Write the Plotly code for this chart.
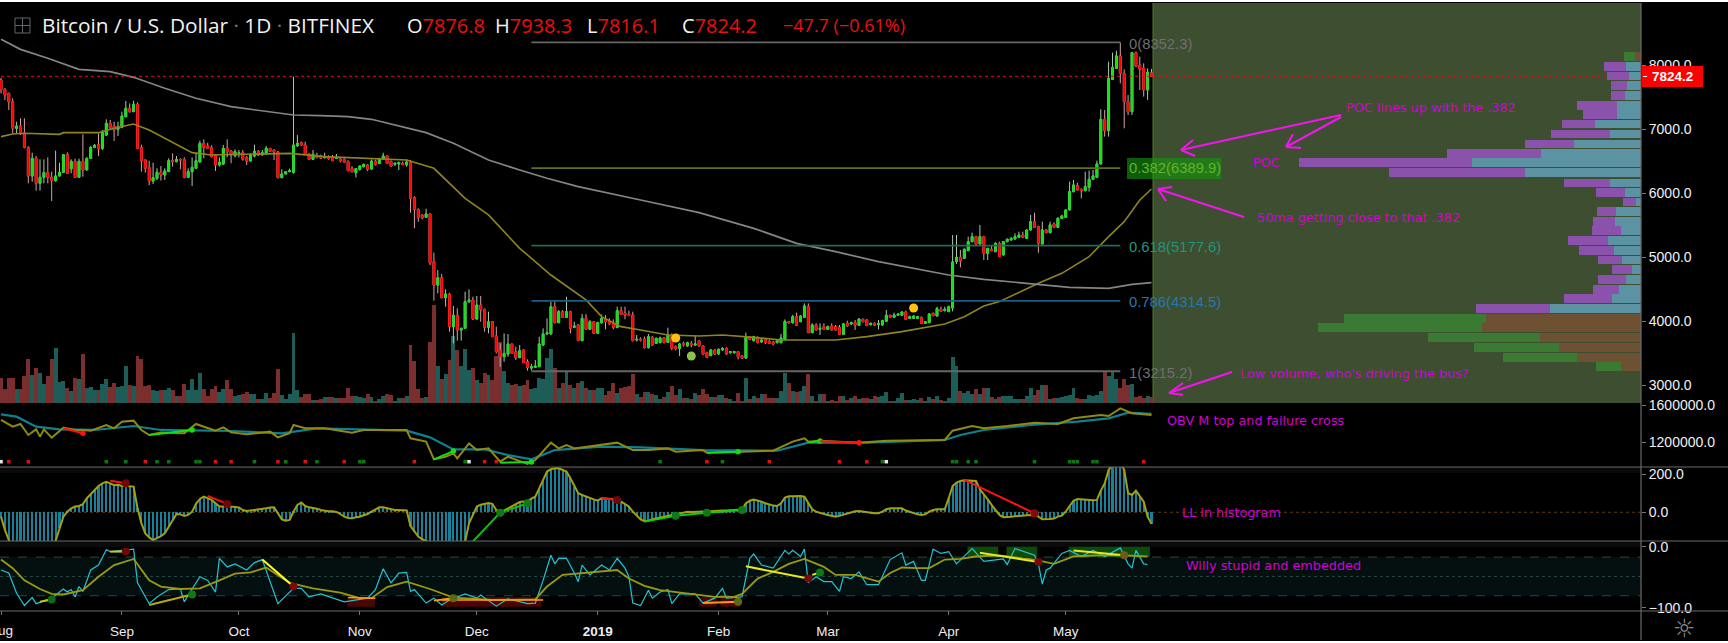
import datetime as dt
import plotly.graph_objects as go

W, H = 1728, 643
START = dt.datetime(2018, 8, 1)

opens = [7766,7620,7557,7427,7011,7047,6932,6714,6266,6542,
6151,6245,6318,6245,6193,6266,6323,6599,6380,6495,
6245,6495,6360,6542,6714,6755,6698,6906,7089,7047,
6995,7026,7193,7323,7271,7386,6714,6516,6401,6188,
6229,6323,6281,6334,6505,6490,6526,6526,6245,6334,
6386,6484,6776,6735,6714,6594,6438,6453,6698,6656,
6583,6620,6630,6552,6500,6578,6651,6594,6610,6698,
6672,6641,6240,6297,6334,6323,6735,6786,6750,6609,
6526,6578,6567,6552,6557,6557,6541,6531,6526,6494,
6385,6317,6369,6411,6437,6375,6500,6463,6531,6578,
6494,6448,6453,6463,6442,6479,5927,5744,5656,5620,
5672,4927,4562,4677,4364,4422,3911,4088,3859,3885,
4302,4328,4031,4250,4182,3901,3989,3765,3547,3443,
3484,3640,3521,3427,3547,3364,3265,3276,3286,3625,
3797,3797,4224,3974,4146,4057,4146,3901,3937,3693,
4041,3870,3989,3807,3974,4026,3990,3954,3896,4162,
4125,4105,4094,3704,3719,3719,3584,3745,3651,3662,
3740,3667,3782,3599,3573,3651,3610,3651,3625,3688,
3610,3506,3459,3547,3485,3547,3573,3506,3506,3521,
3454,3422,3745,3693,3745,3672,3714,3683,3672,3662,
3662,3714,3990,3974,4068,3990,4058,4224,3818,3938,
3870,3912,3870,3922,3912,3901,3792,3964,3954,3974,
3933,4026,4016,3943,3964,3943,3938,3995,4089,4058,
4089,4089,4141,4042,4042,4042,4058,3964,3974,4120,
4078,4183,4162,4146,4203,4928,4995,4980,5100,5240,
5318,5204,5318,5058,5120,5084,5214,5032,5240,5266,
5282,5308,5344,5292,5422,5553,5475,5204,5422,5381,
5516,5464,5605,5620,5735,6021,6115,6058,6037,6089,
6214,6245,6454,7151,6974,7776,7948,8141,7870,7427,
7271,8193,8000,7948,7610,7876.8]
highs = [7800,7640,7570,7479,7115,7167,7167,6730,6630,6578,
6526,6526,6557,6334,6662,6474,6599,6636,6526,6537,
6537,6917,6557,6735,6766,6932,6985,7151,7141,7115,
7115,7271,7438,7401,7443,7417,6755,6526,6505,6474,
6386,6422,6386,6542,6620,6578,6542,6557,6386,6557,
6610,6818,6839,6787,6745,6610,6557,6750,6839,6672,
6682,6672,6672,6578,6620,6755,6672,6672,6735,6700,
6682,6656,6370,6340,6380,7818,6906,6802,6802,6620,
6672,6630,6600,6630,6590,6594,6610,6557,6550,6510,
6420,6390,6430,6460,6450,6525,6520,6550,6630,6590,
6510,6480,6490,6490,6526,6515,5950,5760,5670,5755,
5680,5067,4797,4734,4495,4440,4234,4198,3900,4458,
4495,4380,4390,4390,4195,4146,4000,3911,3651,3807,
3797,3650,3599,3625,3560,3401,3328,3390,3755,3885,
4041,4302,4302,4172,4172,4380,4160,3990,3953,4109,
4109,4015,4000,3990,4100,4094,4042,4026,4224,4224,
4224,4162,4146,3782,3745,3756,3797,3766,3740,3756,
3750,3896,3808,3620,3660,3676,3676,3688,3766,3700,
3620,3520,3560,3560,3570,3590,3590,3530,3535,3530,
3465,3818,3760,3770,3760,3720,3730,3700,3690,3710,
3797,4026,4000,4094,4131,4090,4276,4276,3964,3964,
3964,3964,3930,3964,3938,3938,3970,4006,3990,4016,
4040,4040,4030,3975,3980,4016,4020,4172,4100,4131,
4120,4150,4162,4085,4090,4080,4070,4000,4120,4135,
4224,4224,4224,4240,5344,5344,5110,5136,5318,5381,
5330,5501,5330,5140,5188,5230,5240,5250,5290,5310,
5370,5396,5396,5430,5657,5693,5490,5553,5440,5553,
5540,5620,5660,5745,6178,6204,6160,6070,6334,6350,
6360,6506,7308,7297,8052,8193,8224,8352,7933,7532,
8204,8210,8131,8026,7948,7938.3]
lows = [7557,7453,7297,6932,6932,6906,6698,6151,6177,6037,
6037,6151,6151,5875,6177,6260,6315,6308,6308,6245,
6245,6255,6355,6540,6700,6578,6672,6891,6985,6813,
6891,7011,7182,7255,7265,6698,6333,6318,6125,6141,
6203,6193,6203,6330,6412,6480,6370,6229,6240,6110,
6380,6480,6542,6690,6557,6344,6412,6438,6557,6464,
6557,6557,6505,6438,6495,6557,6578,6590,6600,6640,
6516,6229,6230,6290,6325,6305,6725,6740,6593,6520,
6520,6540,6530,6540,6520,6500,6530,6480,6470,6340,
6320,6244,6350,6400,6343,6365,6430,6450,6525,6460,
6410,6420,6359,6440,6410,5692,5448,5552,5590,5610,
4875,4317,4432,4354,4224,3833,3651,3693,3693,3875,
4280,4015,4020,3989,3833,3807,3755,3495,3286,3364,
3443,3495,3390,3420,3349,3224,3224,3270,3280,3615,
3790,3790,3960,3965,4050,4050,3807,3890,3693,3685,
3870,3860,3807,3800,3960,3870,3935,3870,3896,4095,
4026,4075,3680,3678,3680,3570,3570,3610,3640,3650,
3650,3660,3547,3540,3454,3600,3600,3590,3610,3600,
3470,3420,3450,3470,3470,3530,3470,3490,3490,3401,
3410,3410,3700,3680,3650,3660,3640,3640,3620,3650,
3650,3700,3960,3960,3920,3980,4050,3810,3810,3850,
3782,3860,3860,3850,3850,3785,3785,3910,3940,3860,
3925,3980,3920,3930,3920,3870,3925,3985,4050,4050,
4080,4080,4020,4030,4030,4030,3955,3955,3965,4075,
4070,4140,4150,4140,4150,4891,4839,4970,5090,5230,
5190,5195,4954,4954,5090,5075,5000,5025,5230,5255,
5275,5300,5295,5280,5415,5455,5068,5195,5370,5370,
5455,5455,5595,5610,5730,6010,6040,5917,6025,6021,
6205,6235,6445,6881,6881,7765,7940,7714,7011,7219,
7219,7970,7610,7506,7454,7816.1]
closes = [7610,7531,7427,7011,7047,6932,6714,6266,6542,6151,
6245,6318,6245,6193,6266,6323,6599,6308,6495,6245,
6495,6360,6542,6714,6745,6688,6943,7089,7026,6985,
7037,7203,7323,7271,7386,6698,6505,6386,6188,6240,
6323,6281,6344,6505,6490,6526,6516,6245,6334,6401,
6505,6776,6714,6698,6568,6438,6480,6698,6646,6594,
6646,6630,6526,6500,6594,6651,6594,6630,6698,6651,
6641,6240,6297,6334,6349,6750,6776,6750,6609,6526,
6604,6557,6547,6567,6536,6505,6552,6505,6484,6349,
6333,6380,6422,6448,6369,6500,6448,6531,6578,6463,
6422,6463,6474,6442,6484,5916,5744,5620,5614,5672,
4911,4562,4677,4364,4422,3911,4088,3859,3885,4302,
4328,4031,4250,4172,3901,3989,3755,3521,3443,3495,
3640,3495,3427,3536,3349,3271,3286,3297,3640,3797,
3817,4224,3974,4146,4057,4146,3885,3922,3693,4041,
3870,3989,3807,3974,4041,3990,3954,3901,4162,4105,
4094,4089,3693,3714,3704,3584,3756,3625,3730,3735,
3662,3782,3573,3568,3641,3625,3662,3625,3641,3610,
3485,3433,3547,3485,3558,3573,3485,3521,3521,3443,
3422,3745,3714,3756,3662,3704,3662,3651,3641,3693,
3735,3995,3974,4068,3933,4078,4235,3818,3938,3860,
3886,3870,3912,3860,3860,3792,3954,3922,3974,3938,
4032,3990,3928,3964,3933,3964,4006,4089,4058,4094,
4110,4141,4026,4068,4078,4068,3964,3990,4110,4084,
4193,4151,4183,4224,4922,4995,4938,5120,5240,5318,
5204,5318,5058,5136,5100,5214,5006,5240,5277,5292,
5318,5344,5308,5422,5553,5464,5214,5422,5381,5501,
5464,5605,5641,5735,6021,6126,6047,6037,6099,6214,
6266,6454,7151,6974,7792,7964,8141,7870,7427,7271,
8193,7985,7933,7610,7886,7824.2]
volumes = [75,42,75,75,42,42,80,132,85,105,
90,58,80,132,165,62,65,45,35,75,
72,147,45,48,38,38,58,72,47,60,
47,50,110,53,50,140,132,50,54,39,
36,40,40,46,40,20,20,58,40,72,
40,90,42,20,42,52,32,42,68,42,
20,25,28,32,28,28,12,12,30,15,
30,102,24,12,28,210,38,18,28,27,
8,8,12,18,18,18,15,15,15,46,
22,22,18,16,28,18,6,12,22,28,
24,4,16,16,22,174,125,42,15,18,
184,294,110,72,88,128,200,160,112,162,
100,105,68,60,90,85,68,142,184,95,
60,53,58,50,55,68,42,45,75,72,
135,162,105,45,60,95,55,45,60,65,
45,40,38,45,45,25,35,60,30,45,
48,50,88,28,18,32,34,28,25,12,
18,32,50,25,42,15,15,12,30,25,
42,28,18,18,24,24,15,12,6,30,
6,75,12,22,15,28,28,15,15,15,
35,90,60,35,32,35,52,87,22,7,
28,28,7,10,4,22,22,10,15,20,
12,15,15,12,22,18,22,32,6,6,
14,30,10,8,12,8,14,6,18,12,
20,10,6,15,138,110,35,30,35,28,
42,28,45,45,18,12,18,20,20,20,
12,12,12,22,45,25,40,54,54,12,
15,15,18,22,25,45,15,12,12,25,
22,25,35,95,80,92,72,45,72,55,
58,18,22,15,22,18]
hist = [-23,-93,-146,-190,-230,-260,-280,-290,-290,-280,
-260,-230,-200,-170,-150,-84,-23,3,21,30,
33,42,74,95,117,138,152,160,152,142,
144,138,138,137,135,21,-58,-111,-132,-146,
-137,-125,-111,-76,-40,-9,-11,-19,-14,3,
44,70,82,74,65,47,30,30,33,30,
28,25,12,7,10,12,16,17,21,25,
26,-5,-37,-44,-40,3,39,51,33,26,
23,19,12,7,5,5,2,-9,-23,-30,
-32,-26,-23,-16,-9,3,16,26,26,21,
14,12,12,12,10,-72,-102,-128,-142,-149,
-160,-200,-240,-260,-280,-260,-240,-220,-180,-155,
-58,-14,30,40,44,49,44,12,-2,9,
19,33,44,54,56,58,72,82,126,170,
214,226,231,231,223,214,179,135,100,91,
82,74,68,61,74,72,70,68,67,56,
44,30,3,-19,-37,-47,-44,-37,-32,-26,
-23,-18,-14,-11,-7,-2,3,2,2,3,
3,3,5,7,9,9,9,10,10,12,
14,47,61,67,63,56,47,39,35,33,
47,77,84,84,84,86,82,47,16,3,
-5,-9,-14,-19,-23,-19,-12,-5,0,5,
7,3,0,-4,-5,-5,3,16,21,21,
21,21,9,2,-5,-11,-14,-11,3,12,
16,16,16,74,138,156,165,168,168,167,
165,121,91,68,39,12,-14,-26,-26,-23,
-21,-19,-18,-16,-14,-16,-23,-37,-37,-35,
-33,-23,-18,3,33,60,70,68,65,63,
63,65,114,152,223,249,258,258,223,100,
91,114,86,56,-23,-61]

ma50_day = [0,3,6,15,16,25,29,34,38,43,49,54,62,74,83,95,104,111,119,125,133,141,150,154,159,164,171,179,185,193,200,214,222,231,240,242,247,252,256,266,272,279,284,288,292,295]
ma50_val = [6881,6922,6933,6917,6943,6943,7011,7079,6985,6829,6631,6594,6605,6620,6568,6532,6516,6386,5917,5657,5136,4719,4329,4068,3912,3860,3782,3766,3782,3745,3704,3704,3756,3834,3938,3954,4068,4235,4303,4589,4745,5006,5318,5553,5891,6063]
ma200_day = [0,5,12,20,28,34,42,50,59,66,75,82,89,95,104,109,116,125,133,140,148,156,164,179,193,204,214,225,236,243,252,263,274,284,290,295]
ma200_val = [8401,8245,8105,7933,7896,7808,7636,7480,7349,7297,7219,7209,7193,7152,7021,6943,6777,6516,6360,6230,6100,6000,5891,5693,5448,5214,5084,4927,4797,4719,4651,4589,4527,4511,4573,4599]

fib_levels = [8352.3, 6389.9, 5177.6, 4314.5, 3215.2]
fib_names = ["0(8352.3)", "0.382(6389.9)", "0.618(5177.6)", "0.786(4314.5)", "1(3215.2)"]
fib_colors = ["#666666", "#5f7212", "#1d6b5c", "#1f5c84", "#666666"]
fib_text_colors = ["#6f6f6f", "#62b32a", "#23947e", "#2878ae", "#6f6f6f"]
fib_start_day, fib_end_day = 136, 287

vp_price = [8131,7974,7829,7683,7527,7370,7224,7079,6922,6766,6620,6474,6318,6157,6011,5860,5709,5558,5412,5256,5100,4954,4808,4652,4495,4350,4199,4042,3896,3745,3589,3432,3287]
vp_near = [13,32,26,31,34,51,51,99,67,144,215,364,249,67,34,10,53,55,44,71,58,40,19,33,48,62,196,334,342,218,176,138,44]
vp_far = [23,48,48,34,30,87,73,71,126,106,202,373,293,98,63,29,42,49,62,87,75,52,44,59,55,103,160,305,354,240,184,159,52]
vp_is_low_zone = [1,0,0,0,0,0,0,0,0,0,0,0,0,0,0,0,0,0,0,0,0,0,0,0,0,0,0,1,1,1,1,1,1]

signal_days = [173, 234, 177]
signal_prices = [3734, 4203, 3453]
signal_colors = ["#ffc20e", "#ffc20e", "#8bc34a"]

obv_day = [0,3,5,7,9,10,11,13,16,19,21,23,27,29,31,34,36,38,41,47,50,55,57,59,63,69,71,74,75,78,83,90,93,98,104,105,109,111,114,116,117,120,122,125,128,130,135,137,141,143,145,147,154,158,162,166,171,173,180,181,190,198,203,206,207,210,220,227,242,244,249,252,258,265,271,275,282,284,287,290,295]
obv_k = [1438,1366,1395,1276,1337,1258,1337,1247,1355,1330,1330,1322,1384,1348,1420,1431,1330,1276,1304,1294,1395,1322,1358,1304,1283,1312,1250,1294,1384,1348,1348,1301,1330,1330,1330,1240,1204,1012,1041,1077,1023,1185,1113,1131,987,1041,962,1005,1193,1131,1167,1131,1175,1193,1113,1113,1131,1095,1113,1085,1095,1106,1204,1240,1204,1214,1193,1214,1222,1322,1373,1348,1373,1409,1395,1456,1492,1481,1564,1510,1492]
obvma_day = [0,4,9,15,24,34,41,59,72,81,104,110,116,124,130,136,142,154,164,180,199,207,222,242,246,252,264,276,284,289,295]
obvma_k = [1499,1474,1366,1337,1330,1373,1330,1319,1294,1348,1322,1250,1120,1120,1059,1012,1113,1149,1142,1113,1106,1193,1193,1222,1276,1330,1384,1420,1456,1517,1503]
obv_red_days = [2,7,37,55,59,71,78,88,106,124,127,181,197,215,222,293]
obv_green_days = [27,32,40,43,50,51,65,73,81,92,93,119,169,185,226,244,245,248,250,265,274,275,276,280,281]
obv_white_days = [0,120,227]
obv_marker_level_k = 987
obv_segments = [([16,21],[1348,1294],"#ff1010"),([38,49],[1276,1330],"#10e010"),([111,116],[1012,1102],"#10e010"),([128,136],[976,984],"#10e010"),([181,189],[1085,1095],"#10e010"),([207,210],[1196,1211],"#10e010"),([210,220],[1207,1193],"#ff1010")]

hist_segments = [([28,32],[166,152],"#ff1010","#6e0808"),([53,58],[86,44],"#ff1010","#6e0808"),([121,128,135],[-153,-2,47],"#10c010","#0e7a14"),([154,158],[74,65],"#ff1010","#6e0808"),([165,173,181,190],[-49,-18,-2,12],"#10d010","#0e7a14"),([247,265],[170,-5],"#ff1010","#8a0808")]

wr_day = [0,2,4,6,8,9,13,16,17,18,19,20,21,23,25,27,28,32,34,35,38,40,43,46,47,48,51,53,55,56,58,60,63,65,67,71,75,77,79,82,88,94,96,98,100,102,104,105,106,109,111,113,115,119,122,123,127,130,135,137,139,141,142,143,145,147,148,149,151,154,156,158,160,161,162,164,166,167,169,171,172,174,178,180,183,185,186,190,192,193,195,198,201,202,203,205,206,207,209,211,213,215,216,218,220,222,225,228,231,232,234,236,237,239,241,243,245,249,252,257,258,260,265,266,267,268,269,272,274,277,280,283,287,289,290,291,293,294]
wr_val = [-38,-43,-76,-96,-83,-93,-84,-69,-74,-70,-82,-65,-73,-38,-30,-5,-8,-5,-4,-59,-93,-82,-70,-69,-90,-79,-49,-55,-74,-19,-33,-28,-38,-26,-21,-93,-68,-68,-82,-77,-90,-84,-70,-36,-59,-43,-42,-73,-70,-92,-84,-95,-87,-77,-84,-79,-97,-85,-93,-92,-55,-14,-28,-19,-19,-43,-57,-30,-46,-30,-38,-19,-35,-49,-92,-96,-71,-84,-74,-70,-93,-77,-77,-92,-84,-68,-84,-82,-19,-12,-30,-35,-6,-12,-6,-16,-4,-59,-49,-57,-57,-73,-49,-52,-41,-62,-62,-21,-10,-30,-24,-55,-55,-4,-11,-8,-28,-3,-24,-20,-29,-3,-14,-28,-61,-38,-35,-11,-6,-16,-6,-16,-2,-28,-35,-6,-28,-29]
wrma_day = [0,3,6,10,13,16,21,25,29,34,38,41,46,51,56,60,64,68,74,80,87,92,95,99,104,110,116,120,126,137,140,144,154,158,161,165,169,176,183,188,190,194,198,202,206,211,214,219,225,228,231,235,238,242,246,250,256,262,265,270,275,281,288,294]
wrma_val = [-21,-35,-55,-69,-77,-78,-71,-49,-30,-20,-55,-65,-69,-68,-55,-44,-42,-34,-59,-68,-75,-84,-84,-66,-57,-69,-83,-85,-87,-86,-65,-46,-41,-38,-52,-64,-71,-77,-82,-82,-77,-52,-41,-28,-20,-33,-46,-46,-57,-43,-34,-35,-35,-21,-20,-16,-14,-19,-21,-28,-16,-14,-14,-16]
wr_red_zones = [(88.8,95.9),(113,138.6),(179,183.5),(184.5,189.6)]
wr_green_zones = [(247.8,255.7),(257.8,265.7),(273.8,294.6)]
wr_segments = [([10,13],[-90,-86],"#c8c810","#0e6a14"),([28,32],[-8,-8],"#c8c810","#6e0808"),([38,49],[-95,-78],"#b8a810","#0e7a14"),([67,75],[-21,-65],"#ffff20","#7a0808"),([111,116],[-88,-84],"#ff9a10","#5e6a10"),([180,189],[-92,-90],"#ff9a10","#5e6a10"),([191,207],[-32,-52],"#e8e820","#7a0808"),([208,210],[-46,-42],"#e8e820","#0e7a14"),([251,266],[-10,-25],"#e8e820","#7a0808"),([275,288],[-6,-14],"#e8e820","#6e5a18")]
wr_orange = [([89,96],[-83,-84]),([113,139],[-87,-87])]
wr_levels = [-17, -48.5, -80]

month_dates = ["2018-08-01","2018-09-01","2018-10-01","2018-11-01","2018-12-01","2019-01-01","2019-02-01","2019-03-01","2019-04-01","2019-05-01"]
month_text = ["","Sep","Oct","Nov","Dec","<b>2019</b>","Feb","Mar","Apr","May"]

def day(i):
    return (START + dt.timedelta(days=i)).strftime("%Y-%m-%d %H:%M")
def days(seq):
    return [day(i) for i in seq]
def px(x): return x / W
def py(y): return 1 - y / H

X_END = 1641
PANES = dict(price=(3,403), obv=(403,467), hist=(467,541), wr=(541,610))
all_days = days(range(len(closes)))
x_range = [day((0-1)/3.9), day((X_END-1)/3.9)]
GREEN, RED = "#16e016", "#ff0000"
WICK_UP, WICK_DN = "#a8c8b4", "#d8a0a6"
FONT = "Liberation Sans"

fig = go.Figure()
# volume (behind price)
vol_colors = ["#1d5c57" if c >= o else "#7a2e2e" for o, c in zip(opens, closes)]
fig.add_trace(go.Bar(x=all_days, y=volumes, marker=dict(color=vol_colors, line_width=0), width=1.02*86400000, yaxis="y", xaxis="x"))
# candles: wick layer then body layer
fig.add_trace(go.Candlestick(x=all_days, open=opens, high=highs, low=lows, close=closes, yaxis="y5", xaxis="x",
    increasing=dict(line=dict(color=WICK_UP, width=1), fillcolor=GREEN),
    decreasing=dict(line=dict(color=WICK_DN, width=1), fillcolor=RED)))
fig.add_trace(go.Candlestick(x=all_days, open=opens, close=closes,
    high=[max(o,c) for o,c in zip(opens,closes)], low=[min(o,c) for o,c in zip(opens,closes)], yaxis="y5", xaxis="x",
    increasing=dict(line=dict(color=GREEN, width=0.7), fillcolor=GREEN),
    decreasing=dict(line=dict(color=RED, width=0.7), fillcolor=RED)))
fig.add_trace(go.Scatter(x=days(ma50_day), y=ma50_val, mode="lines", line=dict(color="#8f8420", width=1.6), yaxis="y5", xaxis="x"))
fig.add_trace(go.Scatter(x=days(ma200_day), y=ma200_val, mode="lines", line=dict(color="#858585", width=1.7), yaxis="y5", xaxis="x"))
for lvl, col in zip(fib_levels, fib_colors):
    fig.add_trace(go.Scatter(x=days([fib_start_day, fib_end_day]), y=[lvl, lvl], mode="lines", line=dict(color=col, width=1.8), yaxis="y5", xaxis="x"))
fig.add_trace(go.Scatter(x=days(signal_days), y=signal_prices, mode="markers", marker=dict(color=signal_colors, size=9), yaxis="y5", xaxis="x"))
fig.add_trace(go.Scatter(x=[all_days[0], day((X_END-1)/3.9)], y=[closes[-1]]*2, mode="lines", line=dict(color="#ff0000", width=1, dash="dot"), yaxis="y5", xaxis="x"))

# volume profile
vp_c1 = ["#6e5032" if z else "#5b93a3" for z in vp_is_low_zone]
vp_c2 = ["#3a7a32" if z else "#8a52aa" for z in vp_is_low_zone]
fig.add_trace(go.Bar(y=vp_price, x=vp_near, orientation="h", width=133, marker=dict(color=vp_c1, line_width=0), xaxis="x2", yaxis="y6"))
fig.add_trace(go.Bar(y=vp_price, x=vp_far, orientation="h", width=133, marker=dict(color=vp_c2, line_width=0), xaxis="x2", yaxis="y6"))

# OBV pane
fig.add_trace(go.Scatter(x=days(obvma_day), y=[v*1000 for v in obvma_k], mode="lines", line=dict(color="#0f8090", width=2.2), yaxis="y2", xaxis="x"))
fig.add_trace(go.Scatter(x=days(obv_day), y=[v*1000 for v in obv_k], mode="lines", line=dict(color="#8f8a10", width=2), yaxis="y2", xaxis="x"))
for seq, col in ((obv_red_days,"#e01010"),(obv_green_days,"#0a7a10"),(obv_white_days,"#e8e8e8")):
    fig.add_trace(go.Scatter(x=days(seq), y=[obv_marker_level_k*1000]*len(seq), mode="markers", marker=dict(color=col, size=3.5, symbol="square"), yaxis="y2", xaxis="x"))
for xs, ys, col in obv_segments:
    fig.add_trace(go.Scatter(x=days(xs), y=[v*1000 for v in ys], mode="lines", line=dict(color=col, width=2), yaxis="y2", xaxis="x"))
    fig.add_trace(go.Scatter(x=days(xs[-1:]), y=[ys[-1]*1000], mode="markers", marker=dict(color=col, size=5.5), yaxis="y2", xaxis="x"))

# histogram pane
fig.add_trace(go.Bar(x=all_days, y=hist, width=0.55*86400000, marker=dict(color="#17809b", line_width=0), yaxis="y3", xaxis="x"))
fig.add_trace(go.Scatter(x=all_days, y=hist, mode="lines", line=dict(color="#a3a012", width=2), yaxis="y3", xaxis="x"))
for xs, ys, col, dot in hist_segments:
    fig.add_trace(go.Scatter(x=days(xs), y=ys, mode="lines", line=dict(color=col, width=2), yaxis="y3", xaxis="x"))
    pts = xs[1:] if len(xs) > 2 else xs[-1:]
    vals = ys[1:] if len(xs) > 2 else ys[-1:]
    fig.add_trace(go.Scatter(x=days(pts), y=vals, mode="markers", marker=dict(color=dot, size=8), yaxis="y3", xaxis="x"))

# Williams %R pane
fig.add_trace(go.Scatter(x=days(wr_day), y=wr_val, mode="lines", line=dict(color="#22c4d6", width=1.2), yaxis="y4", xaxis="x"))
fig.add_trace(go.Scatter(x=days(wrma_day), y=wrma_val, mode="lines", line=dict(color="#9a9a12", width=1.8), yaxis="y4", xaxis="x"))
for xs, ys in wr_orange:
    fig.add_trace(go.Scatter(x=days(xs), y=ys, mode="lines", line=dict(color="#ff9a10", width=1.5), yaxis="y4", xaxis="x"))
for xs, ys, col, dot in wr_segments:
    fig.add_trace(go.Scatter(x=days(xs), y=ys, mode="lines", line=dict(color=col, width=2), yaxis="y4", xaxis="x"))
    fig.add_trace(go.Scatter(x=days(xs[-1:]), y=ys[-1:], mode="markers", marker=dict(color=dot, size=8), yaxis="y4", xaxis="x"))

shapes = []
def prect(x0, y0, x1, y1, fill, layer="below", line=None):
    shapes.append(dict(type="rect", xref="paper", yref="paper", x0=px(x0), x1=px(x1), y0=py(y0), y1=py(y1),
                       fillcolor=fill, line=dict(width=0) if line is None else line, layer=layer))
def pline(x0, y0, x1, y1, color, width=1, layer="above"):
    shapes.append(dict(type="line", xref="paper", yref="paper", x0=px(x0), x1=px(x1), y0=py(y0), y1=py(y1),
                       line=dict(color=color, width=width), layer=layer))

# shaded area
prect(1153, 3, X_END, 403, "#3e4e30")
pline(1153, 3, 1153, 403, "#4d7a2c", 1, "below")
# 0.382 label plate
prect(1127, 158, 1221, 179, "rgba(20,150,12,0.62)", "below")
# pane tints
for y in (467, 541):
    prect(0, y, X_END, y+6, "#0a0a0a")
# %R band and levels
shapes.append(dict(type="rect", xref="x domain", yref="y4", x0=0, x1=1, y0=wr_levels[2], y1=wr_levels[0], fillcolor="#03100f", line_width=0, layer="below"))
for a, b in wr_red_zones:
    shapes.append(dict(type="rect", xref="x", yref="y4", x0=day(a), x1=day(b), y0=-98, y1=-82, fillcolor="#4a0505", line_width=0, layer="below"))
for a, b in wr_green_zones:
    shapes.append(dict(type="rect", xref="x", yref="y4", x0=day(a), x1=day(b), y0=-17, y1=0, fillcolor="#0e4a0a", line_width=0, layer="below"))
for lv, d in zip(wr_levels, ("dash","dot","dash")):
    shapes.append(dict(type="line", xref="x domain", yref="y4", x0=0, x1=1, y0=lv, y1=lv, line=dict(color="#274a46", width=1, dash=d), layer="below"))
shapes.append(dict(type="line", xref="x domain", yref="y3", x0=0, x1=1, y0=0, y1=0, line=dict(color="#5a3a10", width=1, dash="dot"), layer="below"))
# separators
for y in (467, 541, 611):
    pline(0, y, W, y, "#6a6a6a", 1.2)
pline(X_END, 3, X_END, 640, "#6a6a6a", 1.2)
# last price tag
prect(1642, 66, 1703, 87, "#ff0000", "above")
pline(1643, 76.5, 1647, 76.5, "#ffffff", 1)
# arrows
MAG = "#f414f0"
for seg in [((1341,115),(1181,150)),((1181,150),(1193,140)),((1181,150),(1195,156)),
            ((1341,117),(1286,147)),((1286,147),(1293,134)),((1286,147),(1301,148)),
            ((1244,217),(1158,189)),((1158,189),(1172,187)),((1158,189),(1166,201)),
            ((1232,372),(1169,393)),((1169,393),(1183,383)),((1169,393),(1183,395))]:
    pline(seg[0][0], seg[0][1], seg[1][0], seg[1][1], MAG, 2)
# header icon
prect(15, 18, 30, 33, "rgba(0,0,0,0)", "above", dict(color="#5f6670", width=1))
pline(22.5, 18, 22.5, 33, "#5f6670", 1)
pline(15, 25.5, 30, 25.5, "#5f6670", 1)
# white page strips
prect(0, 0, W, 2, "#ffffff", "above")
prect(0, 641, W, 643, "#ffffff", "above")

anns = []
def label(x, y, text, color, size=13, family=FONT, anchor="left"):
    anns.append(dict(xref="paper", yref="paper", x=px(x), y=py(y), text=text, showarrow=False, xanchor=anchor, yanchor="middle",
                     font=dict(color=color, size=size, family=family), align="left", borderpad=0, borderwidth=0))
label(42, 25, "Bitcoin / U.S. Dollar <span style='color:#777'>·</span> 1D <span style='color:#777'>·</span> BITFINEX", "#f2f2f2", 20.8, "Open Sans")
for x, tag, val in ((407,"O","7876.8"),(495,"H","7938.3"),(587,"L","7816.1"),(682,"C","7824.2")):
    label(x, 25, f"{tag}<span style='color:#e81010'>{val}</span>", "#f2f2f2", 20, "Open Sans")
label(783, 25, "−47.7 (−0.61%)", "#e81010", 18, "Open Sans")
for lv, name, col in zip([44,168.5,247,302,373], fib_names, fib_text_colors):
    label(1129, lv, name, col, 14.8)
label(1652, 76.5, "<b>7824.2</b>", "#ffffff", 13.5)
label(1684, 628, "☼", "#8f8f8f", 25, "DejaVu Sans", "center")
label(1, 630, "Aug", "#eeeeee", 13.5, FONT, "center")
MT = "#d400d4"
for x, y, t in ((1346,108,"POC lines up with the .382"),(1253,162,"POC"),(1257,217,"50ma getting close to that .382"),
                (1240,373,"Low volume, who's driving the bus?"),(1167,420,"OBV M top and failure cross"),
                (1182,512,"LL in histogram"),(1186,565,"Willy stupid and embedded")):
    label(x, y, t, MT, 12.8, "DejaVu Sans")

ax_common = dict(side="right", anchor="x", showgrid=False, zeroline=False, showline=False, ticks="outside", ticklen=4,
                 tickcolor="#777777", tickfont=dict(color="#f0f0f0", size=14, family=FONT), tickformat=".1f", automargin=False)
dom = lambda p: [py(PANES[p][1]), py(PANES[p][0])]
price_range = [2719, 8969]
fig.update_layout(
    width=W, height=H, margin=dict(l=0, r=0, t=0, b=0, autoexpand=False),
    paper_bgcolor="#000000", plot_bgcolor="rgba(0,0,0,0)", showlegend=False, barmode="stack",
    hovermode=False, shapes=shapes, annotations=anns,
    xaxis=dict(domain=[0, px(X_END)], range=x_range, type="date", anchor="y4", showgrid=False, zeroline=False, showline=False,
               rangeslider=dict(visible=False), tickmode="array", tickvals=month_dates, ticktext=month_text,
               ticks="outside", ticklen=4, tickcolor="#777777", ticklabelstandoff=5,
               tickfont=dict(color="#eeeeee", size=13.5, family=FONT), automargin=False),
    xaxis2=dict(domain=[px(1153), px(X_END)], range=[1051, 0], anchor="y6", visible=False),
    yaxis=dict(domain=dom("price"), range=[0, 1200], anchor="x", visible=False),
    yaxis5=dict(ax_common, overlaying="y", range=price_range, tickvals=[3000,4000,5000,6000,7000,8000]),
    yaxis6=dict(domain=dom("price"), range=price_range, anchor="x2", visible=False),
    yaxis2=dict(ax_common, domain=dom("obv"), range=[929730, 1621621], tickvals=[1200000,1600000]),
    yaxis3=dict(ax_common, domain=dom("hist"), range=[-151, 238], tickvals=[0,200]),
    yaxis4=dict(ax_common, domain=dom("wr"), range=[-103.3, 9.3], tickvals=[-100,0]),
)
fig.write_html("out.html", post_script="document.body.style.margin='0';document.body.style.background='#000';",
               config={"displayModeBar": False})
